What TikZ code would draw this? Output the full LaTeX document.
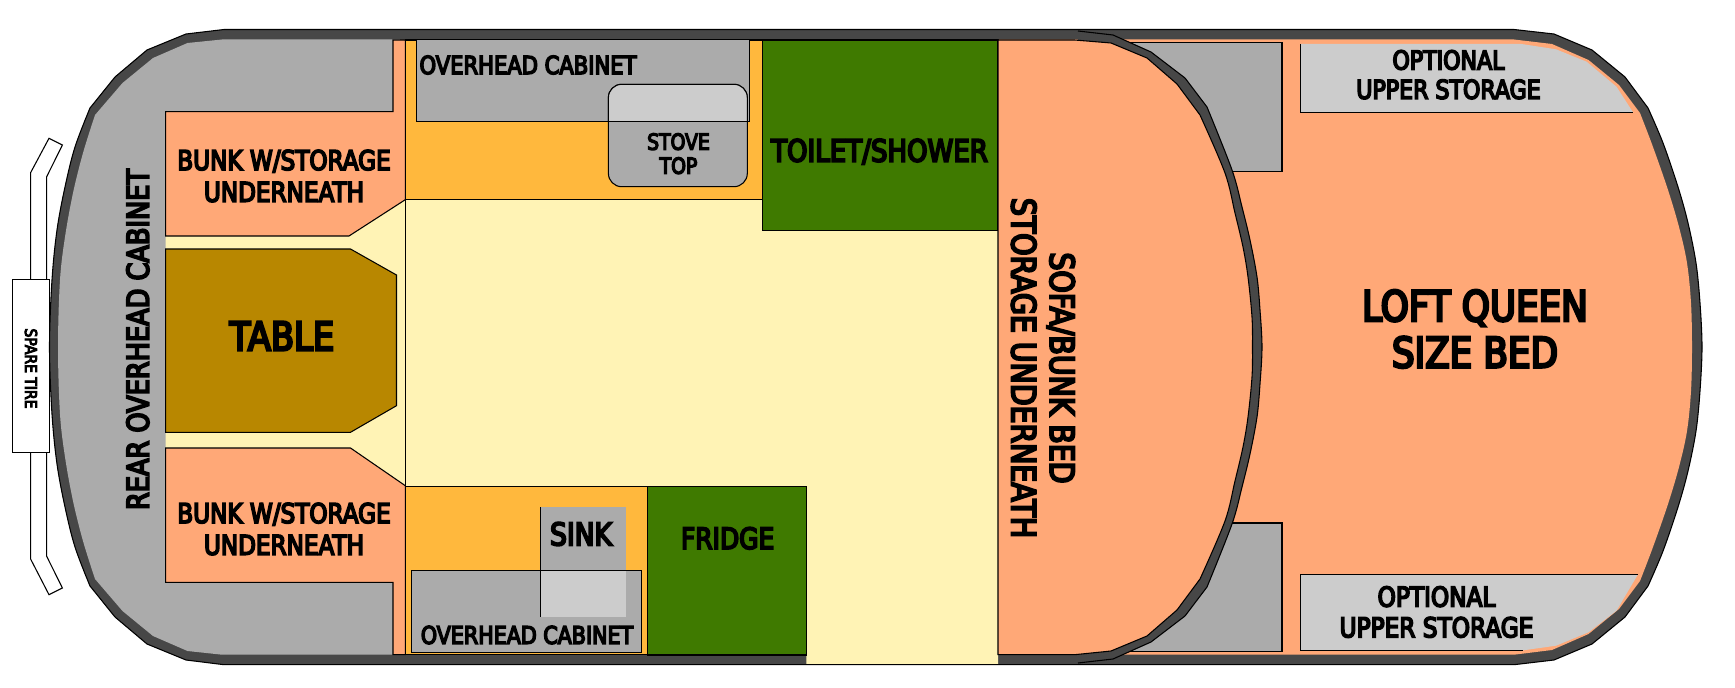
\documentclass[tikz,border=0pt]{standalone}
\usepackage{fontspec}
\newfontfamily\lblf{DejaVu Sans}[FakeStretch=0.85,FakeBold=6]
\definecolor{greyc}{HTML}{ABABAB}
\definecolor{lightc}{HTML}{CCCCCC}
\definecolor{orangec}{HTML}{FFA877}
\definecolor{yellowc}{HTML}{FFF3B5}
\definecolor{amberc}{HTML}{FFB83D}
\definecolor{greenc}{HTML}{3F7A00}
\definecolor{tablec}{HTML}{B88700}
\definecolor{hullc}{HTML}{474747}
\tikzset{
  lbl/.style 2 args={font=\lblf\fontsize{#1}{#2}\selectfont,align=center,inner sep=0pt,text=black},
  edge/.style={draw=black,line width=0.8pt,line join=miter},
  curvy/.style={smooth,tension=0.55},
}
\def\outerhull{(224,29.5) -- (186,34) -- (147,50) -- (115,77) -- plot[curvy] coordinates {(90,108) (75,147) (65,187) (57,230) (52,280) (49.5,347) (52,414) (57,464) (65,507) (75,547) (90,586)} -- (115,617) -- (147,644) -- (186,660) -- (224,664.7) -- (1514,664.7) -- (1554,660) -- (1592,644) -- (1625,617) -- plot[curvy] coordinates {(1648,586) (1663,551) (1678,507) (1688,471) (1696,431) (1700,391) (1702,347) (1700,303) (1696,263) (1688,223) (1678,187) (1663,143) (1648,108)} -- (1625,77) -- (1592,50) -- (1554,34) -- (1514,29.5) -- cycle}
\def\innerhull{(222,39.5) -- (187.5,43) -- (153,58) -- (122.5,83) -- plot[curvy] coordinates {(95,115) (83,153) (73,193) (65,237) (60,280) (58,347) (60,414) (65,457) (73,501) (83,541) (95,579)} -- (122.5,611) -- (153,636) -- (187.5,651) -- (222,654.7) -- (1514,654.7) -- (1552,650) -- (1588.5,634) -- (1619,609) -- plot[curvy] coordinates {(1640,581) (1653,547) (1668,504) (1679,467) (1687,431) (1691,391) (1692,347) (1691,303) (1687,263) (1679,227) (1668,190) (1653,147) (1640,113)} -- (1619,85) -- (1588.5,60) -- (1552,44) -- (1514,39.5) -- cycle}
\begin{document}
\begin{tikzpicture}[x=0.75pt,y=-0.75pt]
\useasboundingbox (0,0) rectangle (1735,688);
\fill[white] (0,0) rectangle (1735,688);
% spare tire
\draw[edge,fill=white] (30.6,300) -- (30.6,172.7) -- (49,138.3) -- (62.4,145) -- (46.7,176.7) -- (46.7,556.3) -- (62.4,588) -- (49,594.7) -- (30.6,559) -- cycle;
\draw[edge,fill=white] (12.2,279.3) rectangle (49.5,452.7);
% hull
\draw[draw=black,line width=0.8pt,fill=hullc] \outerhull;
\begin{scope}
\clip \innerhull;
\fill[greyc] (0,0) rectangle (400,688);
\fill[orangec] (998,0) rectangle (1735,688);
\end{scope}
% floor
\fill[yellowc] (165.7,236) -- (349,236) -- (405.3,199.7) -- (998,199.7) -- (998,664) -- (806.3,664) -- (806.3,486.3) -- (405.3,486.3) -- (350.5,448) -- (165.7,448) -- cycle;
\draw[edge] (806.3,664.7) -- (998,664.7);
\draw[edge] (405.3,199.7) -- (405.3,486.3);
% bunks
\draw[edge,fill=orangec] (165.7,236) -- (165.7,111.7) -- (393,111.7) -- (393,40) -- (405.3,40) -- (405.3,199.7) -- (349,236) -- cycle;
\draw[edge,fill=orangec] (165.7,448) -- (350.5,448) -- (405.3,485.7) -- (405.3,654.7) -- (393,654.7) -- (393,582.3) -- (165.7,582.3) -- cycle;
% table
\draw[edge,fill=tablec] (165.7,249) -- (350.5,249) -- (396.5,275) -- (396.5,405.7) -- (350.5,432.3) -- (165.7,432.3) -- cycle;
% upper counter
\draw[edge,fill=amberc] (405.3,40) rectangle (762.3,199.7);
\fill[greyc] (416.8,40) rectangle (749.3,121.7);
\draw[edge] (416.8,40) -- (416.8,121.7) -- (749.3,121.7) -- (749.3,40);
\draw[edge,fill=greyc,rounded corners=10pt] (608.4,84.3) rectangle (747.3,186.7);
\begin{scope}
\clip (600,80) rectangle (755,121.7);
\draw[edge,fill=lightc,rounded corners=10pt] (608.4,84.3) rectangle (747.3,186.7);
\end{scope}
\draw[edge] (608.4,121.7) -- (749.3,121.7);
% toilet
\draw[edge,fill=greenc] (762.3,40) rectangle (998,230.7);
% lower counter
\draw[edge,fill=amberc] (405.3,486.3) rectangle (647.8,654.7);
\fill[greyc] (540.8,507) rectangle (625.6,570.3);
\draw[edge,fill=greyc] (411.8,570.3) rectangle (641.3,652.3);
\fill[lightc] (540.8,570.3) rectangle (625.6,616.7);
\draw[edge] (540.8,507) -- (540.8,616.7);
\draw[edge] (411.8,570.3) -- (641.3,570.3);
% fridge
\draw[edge,fill=greenc] (647.8,486.3) rectangle (806.3,655);
% wells
\draw[edge,fill=greyc] (1130,42.7) rectangle (1282,171.7);
\draw[edge,fill=greyc] (1130,523) rectangle (1282,651.7);
% optional storage
\fill[lightc] (1300.3,44) -- (1521.5,44) -- (1556,49.3) -- (1586.6,61.7) -- (1616.5,86.7) -- (1633,112.3) -- (1300.3,112.3) -- cycle;
\draw[edge] (1300.3,44) -- (1300.3,112.3) -- (1633,112.3);
\fill[lightc] (1300.3,574.3) -- (1638,574.3) -- (1616.5,610.7) -- (1588.5,632.3) -- (1556,645.7) -- (1523.4,650.3) -- (1300.3,650.3) -- cycle;
\draw[edge] (1638,574.3) -- (1300.3,574.3) -- (1300.3,650.3) -- (1523.4,650.3);
% sofa with its wall
\draw[draw=black,line width=0.8pt,fill=hullc] (1078,31) -- (1113,35) -- (1151,52) -- (1185,78) -- plot[curvy] coordinates {(1207,107) (1232,170) (1242,207) (1250,240) (1257,277) (1260,310) (1262,347) (1260,384) (1257,417) (1250,454) (1242,487) (1232,524) (1207,587)} -- (1185,616) -- (1151,642) -- (1113,659) -- (1078,663);
\fill[hullc] (1000,40) rectangle (1080,654);
\draw[edge,fill=orangec] (998,40) -- (1074.5,40) -- (1111,43) -- (1147,58) -- (1177,84) -- plot[curvy] coordinates {(1200,115) (1225,173) (1235,213) (1243,247) (1248,277) (1252,317) (1252.5,347) (1252,377) (1248,417) (1243,447) (1235,481) (1225,521) (1200,579)} -- (1177,610) -- (1147,636) -- (1111,651) -- (1074.5,654.7) -- (998,654.7) -- cycle;
% labels
\node[lbl={12.3}{14},rotate=-90] (spare) at (31,368.5) {SPARE TIRE};
\node[lbl={22.6}{26},rotate=90] (rear) at (137.8,339.5) {REAR OVERHEAD CABINET};
\node[lbl={20.4}{23.8}] (bunkt) at (284,176) {BUNK W/STORAGE\\UNDERNEATH};
\node[lbl={20.4}{23.8}] (bunkb) at (284,529) {BUNK W/STORAGE\\UNDERNEATH};
\node[lbl={29.8}{32}] (table) at (282,336) {TABLE};
\node[lbl={18.6}{22}] (ocabt) at (528,65) {OVERHEAD CABINET};
\node[lbl={18.2}{22}] (ocabb) at (527,635) {OVERHEAD CABINET};
\node[lbl={16.6}{18}] (stove) at (678.5,153.7) {STOVE\\TOP};
\node[lbl={23}{27}] (toilet) at (879.5,151.7) {TOILET/SHOWER};
\node[lbl={23.4}{26}] (sink) at (581,534) {SINK};
\node[lbl={22}{25}] (fridge) at (727.6,538.3) {FRIDGE};
\node[lbl={25}{28.8},rotate=-90] (sofa) at (1043,368) {SOFA/BUNK BED\\STORAGE UNDERNEATH};
\node[lbl={19.5}{22}] (optt) at (1448.5,74.7) {OPTIONAL\\UPPER STORAGE};
\node[lbl={20.5}{23}] (optb) at (1436.5,612) {OPTIONAL\\UPPER STORAGE};
\node[lbl={31.5}{34.9}] (loft) at (1475,329) {LOFT QUEEN\\SIZE BED};
\end{tikzpicture}
\end{document}
